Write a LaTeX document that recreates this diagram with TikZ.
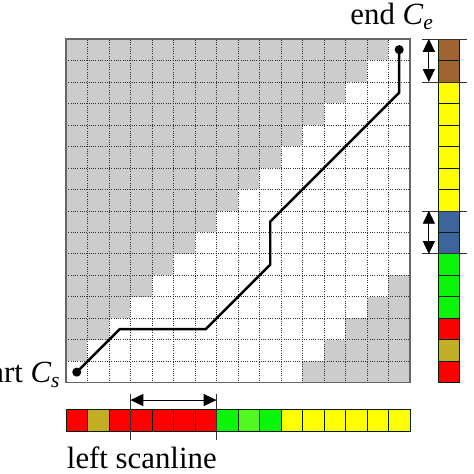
\documentclass[tikz,border=0pt]{standalone}
\usepackage{fontspec}
\setmainfont{Liberation Serif}
\usepackage{tikz}
\usetikzlibrary{arrows.meta}

\definecolor{cellgray}{RGB}{204,204,204}
\definecolor{barred}{RGB}{255,0,0}
\definecolor{barolive}{RGB}{194,174,36}
\definecolor{bargreen}{RGB}{10,245,10}
\definecolor{barlime}{RGB}{80,250,30}
\definecolor{baryellow}{RGB}{255,255,0}
\definecolor{barblue}{RGB}{62,100,158}
\definecolor{barbrown}{RGB}{160,100,48}

\begin{document}
\begin{tikzpicture}[x=0.5cm, y=0.5cm,
        graycell/.style = {fill=cellgray},
        gridline/.style = {draw=black!80, densely dotted, line width=0.5pt},
        frame/.style = {draw=black!60, line width=0.8pt},
        barcell/.style = {draw=black!70!green!40!black, line width=0.5pt},
        route/.style = {draw=black, line width=1.6pt, line join=miter},
        dot/.style = {circle, fill=black, inner sep=0pt, minimum size=6pt},
        tick/.style = {draw=black!80, line width=0.5pt},
        dim/.style = {{Triangle[length=8.5pt,width=8pt]}-{Triangle[length=8.5pt,width=8pt]}, line width=0.6pt},
        lbl/.style = {inner sep=0pt, font=\fontsize{20.4}{24}\selectfont}]
    \useasboundingbox (-3.07,-4.23) rectangle (18.98,17.81);

    % gray cells of the matrix
    \foreach \j in {1,...,15}
        \fill[graycell] (0,\j) rectangle (\j,\j+1);
    \foreach \j in {0,...,4}
        \fill[graycell] (\j+11,\j) rectangle (16,\j+1);
    \draw[gridline, step=0.5cm] (0,0) grid (16,16);
    \draw[frame] (0,0) rectangle (16,16);

    % warping path
    \node[dot] (cs) at (0.5,0.5) {};
    \node[dot] (ce) at (15.5,15.5) {};
    \draw[route] (cs.center) -- (2.5,2.5) -- (6.5,2.5) -- (9.5,5.5) -- (9.5,7.5) -- (15.5,13.5) -- (ce.center);

    % bottom bar
    \foreach \col [count=\i from 0] in {barred,barolive,barred,barred,barred,barred,barred,bargreen,barlime,bargreen,baryellow,baryellow,baryellow,baryellow,baryellow,baryellow}
        \draw[barcell, fill=\col] (\i,-2.25) rectangle ++(1,1);

    % right bar
    \foreach \col [count=\i from 0] in {barred,barolive,barred,bargreen,bargreen,bargreen,barblue,barblue,baryellow,baryellow,baryellow,baryellow,baryellow,baryellow,barbrown,barbrown}
        \draw[barcell, fill=\col] (17.3,\i) rectangle ++(1,1);

    % scanline marks
    \draw[tick] (3,-0.5) -- (3,-2.65);
    \draw[tick] (7,-0.5) -- (7,-2.65);
    \coordinate (scanA) at (3,-0.8);
    \coordinate (scanB) at (7,-0.8);
    \draw[dim] (scanA) -- (scanB);

    \foreach \y in {16,14,8,6}
        \draw[tick] (16.56,\y) -- (18.65,\y);
    \coordinate (brA) at (16.88,16);
    \coordinate (brB) at (16.88,14);
    \coordinate (blA) at (16.88,8);
    \coordinate (blB) at (16.88,6);
    \draw[dim] (brA) -- (brB);
    \draw[dim] (blA) -- (blB);

    % labels
    \node[lbl, anchor=base east] (start) at (-0.25,0) {start {\itshape C}\textsubscript{\itshape s}};
    \node[lbl, anchor=base west] (end) at (13.22,16.65) {end {\itshape C}\textsubscript{\itshape e}};
    \node[lbl, anchor=base west] (scan) at (0.03,-3.99) {left scanline};
\end{tikzpicture}
\end{document}
